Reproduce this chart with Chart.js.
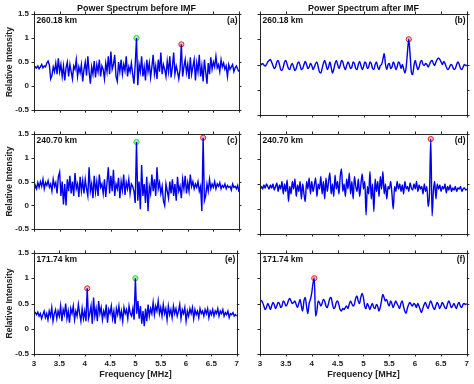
<!DOCTYPE html>
<html>
<head>
<meta charset="utf-8">
<script src="https://cdn.jsdelivr.net/npm/chart.js@4"></script>
<style>
  html, body { margin: 0; padding: 0; background: #fff; }
  #wrap { position: relative; width: 474px; height: 384px; overflow: hidden; }
  #wrap canvas { position: absolute; }
</style>
</head>
<body>
<div id="wrap">
  <canvas id="pa" width="244" height="120" style="left:0;top:0"></canvas>
  <canvas id="pb" width="224" height="120" style="left:250px;top:0"></canvas>
  <canvas id="pc" width="244" height="119" style="left:0;top:120px"></canvas>
  <canvas id="pd" width="224" height="119" style="left:250px;top:120px"></canvas>
  <canvas id="pe" width="244" height="144" style="left:0;top:240px"></canvas>
  <canvas id="pf" width="224" height="144" style="left:250px;top:240px"></canvas>
</div>
<script>
// frequency grid [MHz]
const freqStart = 3;
const freqStep = 0.025;
const xTicks = [3, 3.5, 4, 4.5, 5, 5.5, 6, 6.5, 7];
const yTicks = [-0.5, 0, 0.5, 1, 1.5];

const columnTitles = ['Power Spectrum before IMF', 'Power Spectrum after IMF'];
const heightLabels = ['260.18 km', '240.70 km', '171.74 km'];
const panelTags = ['(a)', '(b)', '(c)', '(d)', '(e)', '(f)'];

// (a) 260.18 km, before IMF
const specA = [
  0.35,0.40,0.38,0.42,0.36,0.40,0.45,0.38,0.42,0.40,
  0.48,0.52,0.44,0.15,0.22,0.40,0.30,0.48,0.25,0.58,
  0.30,0.45,0.20,0.42,0.12,0.38,0.50,0.20,0.45,0.30,
  0.15,0.42,0.35,0.55,0.20,0.40,0.28,0.45,0.10,0.35,
  0.50,0.22,0.62,0.30,0.05,0.40,0.25,0.52,0.18,0.45,
  0.30,0.55,0.20,0.42,0.35,0.15,0.48,0.30,0.62,0.25,
  0.72,0.35,0.45,0.65,0.20,0.10,0.50,0.30,0.55,0.25,
  0.45,0.32,0.62,0.20,0.40,0.30,0.48,0.25,0.05,0.45,
  1.00,0.02,0.45,0.30,0.62,0.20,0.40,0.12,0.55,0.30,
  0.48,0.18,0.40,0.65,0.25,0.42,0.15,0.55,0.30,0.70,
  0.25,0.45,0.35,0.20,0.52,0.30,0.62,0.18,0.40,0.70,
  0.25,0.42,0.30,0.15,0.35,0.87,0.20,0.40,0.55,0.28,
  0.45,0.15,0.60,0.25,0.40,0.55,0.12,0.48,0.30,0.65,
  0.20,0.42,0.10,0.55,0.30,0.05,0.48,0.25,0.60,0.35,
  0.50,0.40,0.62,0.38,0.45,0.30,0.55,0.40,0.48,0.35,
  0.42,0.20,0.45,0.35,0.40,0.45,0.30,0.38,0.42,0.35,
  0.30
];

// (b) 260.18 km, after IMF
const specB = [
  0.47,0.50,0.52,0.49,0.47,0.50,0.55,0.58,0.60,0.55,
  0.48,0.42,0.45,0.55,0.58,0.50,0.40,0.38,0.45,0.55,
  0.58,0.50,0.42,0.40,0.48,0.52,0.45,0.38,0.42,0.52,
  0.55,0.48,0.40,0.42,0.50,0.56,0.50,0.42,0.45,0.52,
  0.48,0.40,0.45,0.52,0.55,0.45,0.35,0.33,0.42,0.52,
  0.58,0.50,0.40,0.45,0.55,0.45,0.33,0.40,0.52,0.58,
  0.50,0.42,0.48,0.58,0.55,0.45,0.40,0.48,0.55,0.50,
  0.42,0.45,0.55,0.52,0.42,0.40,0.50,0.56,0.48,0.40,
  0.45,0.55,0.52,0.42,0.45,0.55,0.52,0.42,0.40,0.50,
  0.55,0.45,0.40,0.48,0.50,0.60,0.72,0.50,0.40,0.50,
  0.52,0.42,0.45,0.55,0.50,0.40,0.45,0.55,0.52,0.42,
  0.50,0.42,0.33,0.45,0.75,1.00,0.70,0.35,0.30,0.48,
  0.58,0.48,0.40,0.45,0.55,0.58,0.50,0.48,0.52,0.50,
  0.45,0.50,0.56,0.58,0.52,0.48,0.55,0.60,0.63,0.60,
  0.55,0.50,0.56,0.52,0.45,0.40,0.42,0.48,0.50,0.45,
  0.40,0.42,0.50,0.55,0.50,0.42,0.40,0.45,0.50,0.48,
  0.48
];

// (c) 240.70 km, before IMF
const specC = [
  0.30,0.42,0.35,0.48,0.38,0.50,0.40,0.55,0.35,0.48,
  0.42,0.52,0.38,0.45,0.30,0.55,0.40,0.48,0.25,0.60,
  0.70,0.20,0.50,0.02,0.45,0.00,0.55,0.30,0.62,0.25,
  0.50,0.20,0.68,0.35,0.45,0.18,0.60,0.30,0.52,0.25,
  0.55,0.35,0.20,0.80,0.30,0.45,0.15,0.62,0.28,0.50,
  0.20,0.65,0.38,0.45,0.25,0.55,0.18,0.48,0.80,0.25,
  0.62,0.30,0.75,0.20,0.45,0.35,0.58,0.15,0.50,0.32,
  0.65,0.22,0.48,0.35,0.55,0.25,0.45,0.40,0.30,0.05,
  1.33,0.10,0.50,-0.08,0.85,0.20,0.45,0.05,0.60,-0.12,
  0.40,0.25,0.65,0.30,0.55,0.20,0.80,0.35,0.48,0.25,
  0.40,0.10,0.00,0.45,0.30,0.15,0.50,0.25,0.55,0.20,
  0.45,0.10,0.60,0.30,0.40,0.15,0.55,0.35,0.62,0.25,
  0.48,0.30,0.65,0.40,0.50,0.35,0.45,0.38,0.50,0.30,
  0.40,-0.12,1.42,0.10,0.20,0.45,0.30,0.55,0.35,0.45,
  0.38,0.50,0.35,0.45,0.40,0.48,0.35,0.42,0.38,0.45,
  0.35,0.42,0.38,0.40,0.32,0.45,0.38,0.40,0.35,0.42,
  0.28
];

// (d) 240.70 km, after IMF
const specD = [
  0.38,0.45,0.40,0.48,0.42,0.50,0.45,0.40,0.48,0.42,
  0.50,0.38,0.45,0.52,0.35,0.48,0.40,0.55,0.30,0.50,
  0.35,0.58,0.15,0.45,0.30,0.55,0.40,0.60,0.25,0.48,
  0.35,0.55,0.20,0.50,0.30,0.15,0.55,0.40,0.62,0.30,
  0.55,0.35,0.48,0.62,0.25,0.50,0.40,0.65,0.30,0.55,
  0.20,0.62,0.35,0.55,0.72,0.30,0.50,0.25,0.68,0.40,
  0.55,0.30,0.65,0.80,0.35,0.50,0.25,0.60,0.40,0.72,
  0.30,0.55,0.20,0.65,0.45,0.35,0.60,0.25,0.50,0.70,
  0.40,0.55,-0.12,0.45,0.30,0.75,0.20,0.50,-0.05,0.60,
  0.35,0.55,0.25,0.65,0.40,0.75,0.30,0.50,0.20,0.45,
  0.40,0.55,0.30,0.00,0.45,0.35,0.55,0.40,0.50,0.35,
  0.48,0.30,0.55,0.40,0.45,0.35,0.52,0.42,0.38,0.50,
  0.40,0.55,0.35,0.48,0.40,0.45,0.30,0.50,0.35,0.45,
  0.05,0.30,1.40,-0.14,0.35,0.55,0.20,0.50,0.40,0.48,
  0.35,0.45,0.40,0.50,0.32,0.45,0.38,0.48,0.35,0.42,
  0.38,0.45,0.35,0.42,0.40,0.45,0.35,0.40,0.42,0.38,
  0.40
];

// (e) 171.74 km, before IMF
const specE = [
  0.30,0.32,0.28,0.33,0.25,0.30,0.20,0.28,0.35,0.22,
  0.30,0.18,0.35,0.25,0.42,0.15,0.30,0.38,0.20,0.35,
  0.25,0.45,0.15,0.38,0.28,0.50,0.20,0.35,0.12,0.40,
  0.30,0.45,0.18,0.35,0.25,0.48,0.30,0.15,0.40,0.20,
  0.35,0.15,0.80,0.20,0.30,0.45,0.10,0.62,0.25,0.40,
  0.15,0.55,0.30,0.42,0.18,0.35,0.25,0.48,0.12,0.38,
  0.30,0.45,0.20,0.35,0.10,0.40,0.28,0.45,0.22,0.35,
  0.15,0.42,0.30,0.38,0.20,0.45,0.30,0.25,0.40,0.18,
  1.00,0.30,0.55,0.20,0.45,0.10,0.35,0.05,0.40,0.15,
  0.48,0.25,0.40,0.30,0.52,0.28,0.45,0.35,0.55,0.30,
  0.42,0.25,0.48,0.30,0.40,0.18,0.45,0.28,0.38,0.22,
  0.45,0.30,0.40,0.25,0.35,0.48,0.20,0.38,0.30,0.42,
  0.15,0.35,0.25,0.40,0.30,0.42,0.20,0.38,0.28,0.35,
  0.22,0.40,0.30,0.35,0.25,0.38,0.30,0.40,0.22,0.35,
  0.28,0.38,0.25,0.35,0.30,0.40,0.25,0.35,0.30,0.38,
  0.25,0.32,0.28,0.35,0.22,0.30,0.28,0.32,0.25,0.28,
  0.25
];

// (f) 171.74 km, after IMF
const specF = [
  0.55,0.56,0.52,0.45,0.38,0.42,0.50,0.45,0.38,0.45,
  0.52,0.48,0.40,0.45,0.52,0.50,0.42,0.45,0.55,0.52,
  0.45,0.48,0.56,0.60,0.55,0.50,0.52,0.55,0.48,0.42,
  0.50,0.58,0.45,0.35,0.55,0.62,0.45,0.30,0.50,0.58,
  0.70,0.90,1.00,0.25,0.35,0.55,0.52,0.45,0.50,0.58,
  0.55,0.45,0.42,0.50,0.60,0.62,0.50,0.40,0.42,0.52,
  0.55,0.48,0.38,0.35,0.40,0.38,0.42,0.45,0.40,0.48,
  0.55,0.50,0.45,0.48,0.60,0.65,0.55,0.50,0.62,0.70,
  0.62,0.45,0.40,0.50,0.45,0.38,0.45,0.50,0.42,0.40,
  0.48,0.45,0.35,0.42,0.55,0.68,0.62,0.55,0.58,0.50,
  0.45,0.55,0.50,0.42,0.48,0.55,0.50,0.45,0.40,0.50,
  0.55,0.45,0.35,0.30,0.40,0.48,0.52,0.48,0.45,0.50,
  0.48,0.42,0.50,0.45,0.38,0.32,0.40,0.48,0.52,0.45,
  0.40,0.48,0.55,0.50,0.42,0.38,0.45,0.52,0.48,0.40,
  0.45,0.52,0.48,0.42,0.40,0.48,0.55,0.50,0.42,0.45,
  0.50,0.45,0.40,0.48,0.52,0.45,0.42,0.48,0.50,0.48,
  0.50
];

// marked peaks [freq, intensity]
const redPeaks = [[5.875, 0.87], [5.875, 1.00], [6.30, 1.42], [6.30, 1.40], [4.05, 0.80], [4.05, 1.00]];
const greenPeaks = [[5.00, 1.00], null, [5.00, 1.33], null, [5.00, 1.00], null];

const FONT = "'Liberation Sans', Arial, sans-serif";
const INK = '#262626';

// MATLAB-like box with outward ticks plus in-panel texts
const panelDeco = {
	id: 'panelDeco',
	afterDraw(chart, args, o) {
		const ctx = chart.ctx;
		const a = chart.chartArea;
		const xs = chart.scales.x, ys = chart.scales.y;
		const tl = 2.5;
		ctx.save();
		ctx.strokeStyle = INK;
		ctx.lineWidth = 1;
		ctx.beginPath();
		xTicks.forEach(v => {
			const px = Math.round(xs.getPixelForValue(v)) + 0.5;
			ctx.moveTo(px, a.bottom); ctx.lineTo(px, a.bottom + tl);
			ctx.moveTo(px, a.top); ctx.lineTo(px, a.top - tl);
		});
		yTicks.forEach(v => {
			const py = Math.round(ys.getPixelForValue(v)) + 0.5;
			ctx.moveTo(a.left, py); ctx.lineTo(a.left - tl, py);
			ctx.moveTo(a.right, py); ctx.lineTo(a.right + tl, py);
		});
		ctx.stroke();
		ctx.strokeRect(Math.round(a.left) + 0.5, Math.round(a.top) + 0.5,
			Math.round(a.right - a.left), Math.round(a.bottom - a.top));

		ctx.fillStyle = '#111';
		ctx.textBaseline = 'middle';
		ctx.font = 'bold 8.5px ' + FONT;
		ctx.textAlign = 'left';
		ctx.fillText(o.height, a.left + 2.5, a.top + 7);
		ctx.textAlign = 'right';
		ctx.fillText(o.tag, a.right - 1.5, a.top + 7);
		if (o.title) {
			ctx.font = 'bold 9px ' + FONT;
			ctx.textAlign = 'center';
			ctx.fillText(o.title, (a.left + a.right) / 2, a.top - 5.5);
		}
		ctx.restore();
	}
};

function makePanel(id, values, idx) {
	const col = idx % 2, row = Math.floor(idx / 2);
	const isLeft = col === 0, isBottom = row === 2;
	const pts = values.map((v, i) => ({ x: freqStart + i * freqStep, y: v }));
	const datasets = [{
		type: 'line',
		data: pts,
		borderColor: '#0000f0',
		borderWidth: 1.4,
		pointRadius: 0,
		cubicInterpolationMode: col === 1 ? 'monotone' : 'default',
		tension: col === 1 ? 0.4 : 0
	}];
	if (redPeaks[idx]) {
		datasets.push({
			type: 'scatter',
			data: [{ x: redPeaks[idx][0], y: redPeaks[idx][1] }],
			pointRadius: 2.6,
			borderWidth: 1,
			borderColor: '#e8202a',
			backgroundColor: 'rgba(250,170,180,0.85)'
		});
	}
	if (greenPeaks[idx]) {
		datasets.push({
			type: 'scatter',
			data: [{ x: greenPeaks[idx][0], y: greenPeaks[idx][1] }],
			pointRadius: 2.6,
			borderWidth: 1,
			borderColor: '#2cd23a',
			backgroundColor: 'rgba(160,240,160,0.9)'
		});
	}
	new Chart(document.getElementById(id), {
		data: { datasets: datasets },
		plugins: [panelDeco],
		options: {
			responsive: false,
			animation: false,
			events: [],
			layout: { padding: { top: row === 2 ? 13 : 14, right: isLeft ? 5 : 7, left: 0, bottom: 0 } },
			plugins: {
				legend: { display: false },
				tooltip: { enabled: false },
				panelDeco: {
					title: row === 0 ? columnTitles[col] : '',
					height: heightLabels[row],
					tag: panelTags[idx]
				}
			},
			scales: {
				x: {
					type: 'linear',
					min: 3, max: 7,
					grid: { display: false, drawTicks: false },
					border: { display: false },
					ticks: {
						display: isBottom,
						stepSize: 0.5,
						padding: 5,
						color: '#222',
						font: { family: FONT, size: 8, weight: 'bold' },
						callback: v => String(v)
					},
					title: {
						display: isBottom,
						text: 'Frequency [MHz]',
						color: '#222',
						padding: { top: 0, bottom: 4 },
						font: { family: FONT, size: 9, weight: 'bold' }
					},
					afterFit: s => { s.height = isBottom ? 30 : 4; }
				},
				y: {
					min: -0.5, max: 1.5,
					grid: { display: false, drawTicks: false },
					border: { display: false },
					ticks: {
						display: isLeft,
						stepSize: 0.5,
						padding: 5,
						color: '#222',
						font: { family: FONT, size: 8, weight: 'bold' },
						callback: v => String(v)
					},
					title: {
						display: isLeft,
						text: 'Relative Intensity',
						color: '#222',
						padding: { top: 5, bottom: 0 },
						font: { family: FONT, size: 8.5, weight: 'bold' }
					},
					afterFit: s => { s.width = isLeft ? 34 : 10; }
				}
			}
		}
	});
}

makePanel('pa', specA, 0);
makePanel('pb', specB, 1);
makePanel('pc', specC, 2);
makePanel('pd', specD, 3);
makePanel('pe', specE, 4);
makePanel('pf', specF, 5);
</script>
</body>
</html>
